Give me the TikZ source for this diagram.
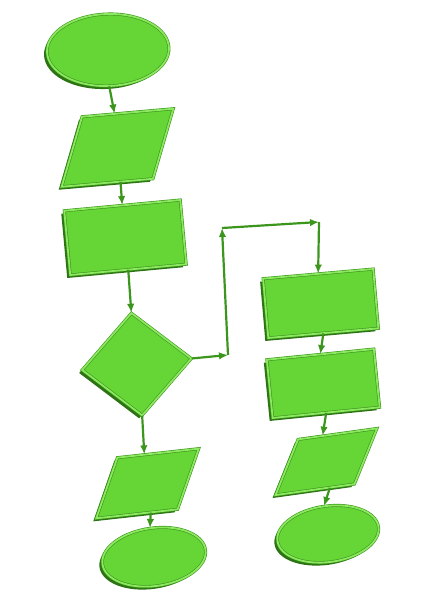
\documentclass[tikz,border=0pt]{standalone}
\usetikzlibrary{shapes.geometric,shadows,arrows.meta}
\definecolor{face}{RGB}{102,214,54}
\definecolor{rim}{RGB}{60,150,30}
\definecolor{deep}{RGB}{45,115,20}
\definecolor{bevel}{RGB}{140,232,95}
\tikzset{
  slab/.style={fill=face, draw=rim, line width=0.6pt, double=bevel,
    double distance=1.8pt, inner sep=0pt,
    drop shadow={shadow xshift=-3pt, shadow yshift=-3pt, fill=deep, opacity=1}},
  term/.style={slab, ellipse},
  proc/.style={slab, rectangle},
  io/.style={slab, trapezium, trapezium stretches=true, inner sep=2pt},
  decide/.style={slab, diamond},
  link/.style={draw=rim, line width=2.2pt, -{Latex[length=9pt,width=7.5pt]},
    postaction={draw=bevel, line width=0.6pt, -, shorten >=8pt}}
}
\begin{document}
\begin{tikzpicture}[x=1pt,y=-1pt]
      \useasboundingbox (0,0) rectangle (424,600);
      \draw
        (108,50) node[term, minimum width=122pt, minimum height=72pt, rotate=2] (0){}
        (117.5,147.75) node[io, minimum width=118pt, minimum height=68pt,
          trapezium left angle=68, trapezium right angle=112, rotate=5] (1){}
        (125.25,237.5) node[proc, minimum width=116.5pt, minimum height=64.5pt, rotate=5.3] (2){}
        (136.75,364.25) node[decide, minimum width=110pt, minimum height=103pt, rotate=6] (3){}
        (147.5,483.5) node[io, minimum width=109.5pt, minimum height=58pt,
          trapezium left angle=63, trapezium right angle=117, rotate=6.3] (4){}
        (154,557) node[term, minimum width=104pt, minimum height=58pt, rotate=8] (5){}
        (320.75,303.5) node[proc, minimum width=110.5pt, minimum height=59.5pt, rotate=5] (6){}
        (323.25,383.5) node[proc, minimum width=107.5pt, minimum height=58.5pt, rotate=5.7] (7){}
        (326.25,461.75) node[io, minimum width=109.6pt, minimum height=52pt,
          trapezium left angle=59, trapezium right angle=121, rotate=7.9] (8){}
        (328,534) node[term, minimum width=102pt, minimum height=56pt, rotate=8] (9){};
      \coordinate (10) at (228,355);
      \coordinate (11) at (222,228);
      \coordinate (12) at (319,222);
      \begin{scope}[link]
        \draw (0.south) to (1.north);
        \draw (1.south) to (2.north);
        \draw (2.south) to (3.north);
        \draw (3.south) to (4.north);
        \draw (4.south) to (5.north);
        \draw (3.east) to (10);
        \draw (10) to (11);
        \draw (11) to (12);
        \draw (12) to (6.north);
        \draw (6.south) to (7.north);
        \draw (7.south) to (8.north);
        \draw (8.south) to (9.north);
      \end{scope}
    \end{tikzpicture}
\end{document}
